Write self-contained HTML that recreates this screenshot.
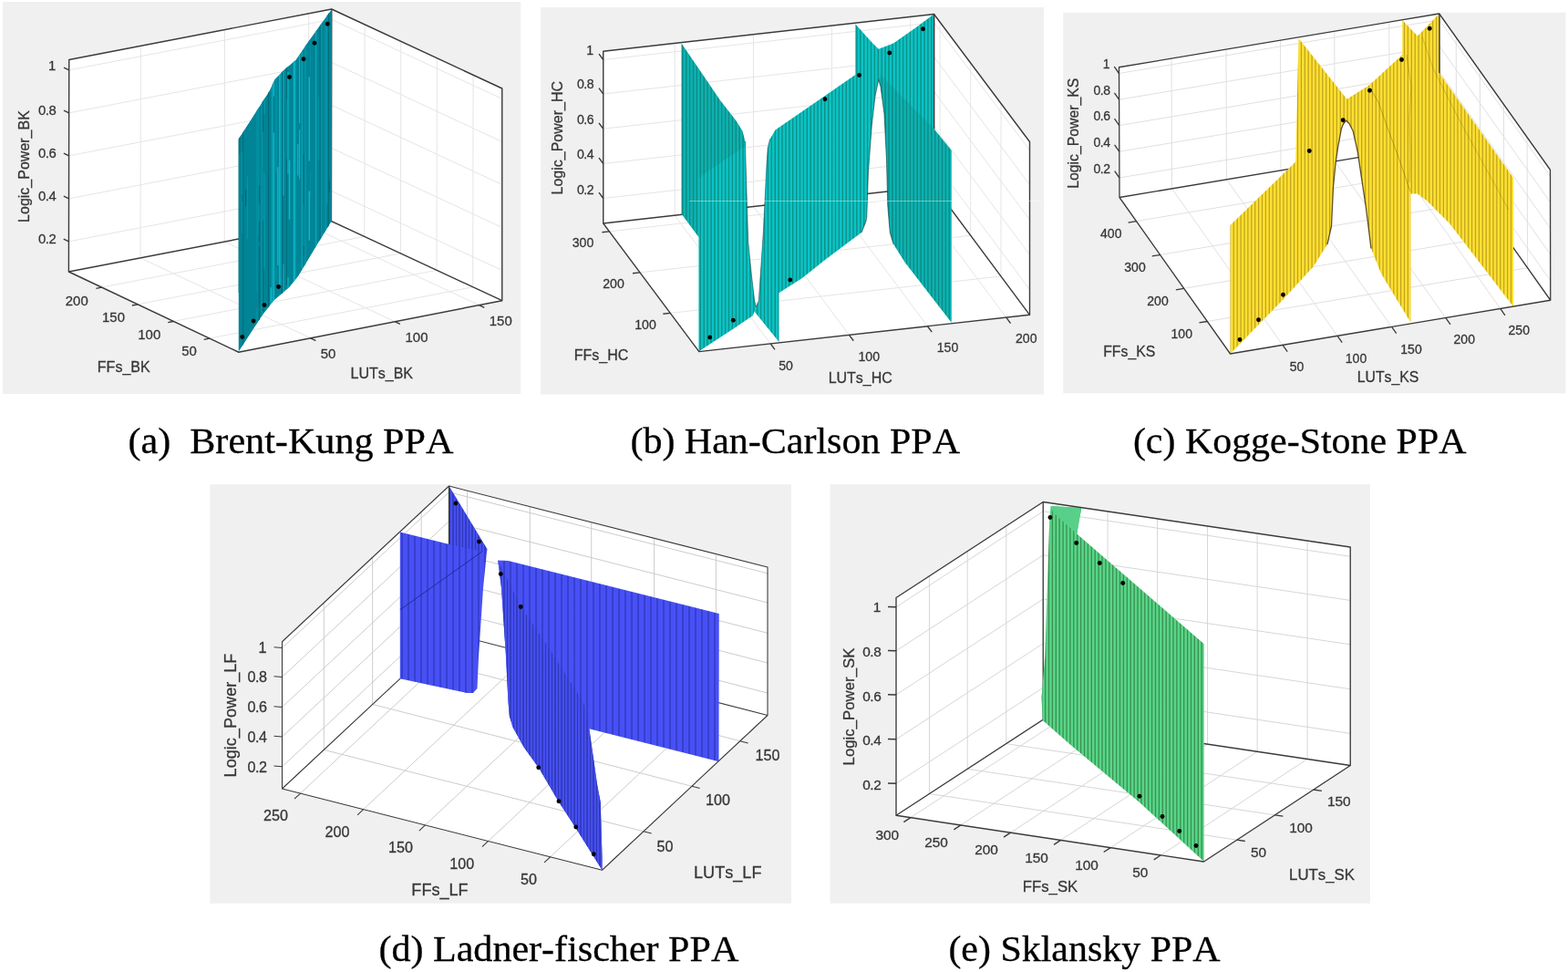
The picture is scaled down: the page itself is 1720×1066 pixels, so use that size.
<!DOCTYPE html>
<html lang="en"><head><meta charset="utf-8"><title>PPA logic power surface fits</title>
<style>
html,body{margin:0;padding:0;background:#fff;}
body{width:1720px;height:1066px;overflow:hidden;position:relative;}
svg{position:absolute;left:0;top:0;display:block;}
.t{font-family:"Liberation Sans","DejaVu Sans",sans-serif;fill:#363636;stroke:#363636;stroke-width:0.28px;font-kerning:none;}
.c{font-family:"Liberation Serif","DejaVu Serif",serif;fill:#000;white-space:pre;font-kerning:none;stroke:#000;stroke-width:0.3px;}
</style></head><body>
<svg width="1720" height="1066" viewBox="0 0 1720 1066" role="img" aria-label="Logic power surface fits for five parallel prefix adders">
<rect x="0" y="0" width="1720" height="1066" fill="#ffffff"/>
<defs>
<clipPath id="clip1"><polygon points="261.50,386.25 261.50,152.50 295.30,100.00 301.00,87.50 312.00,76.00 324.40,65.70 338.50,45.00 364.20,9.50 364.20,242.00 350.00,265.00 327.50,302.50 317.50,315.00 300.00,330.00 287.50,346.25"/></clipPath>
<linearGradient id="pb" gradientUnits="userSpaceOnUse" x1="0.000" y1="0" x2="3.900" y2="0" spreadMethod="repeat"><stop offset="0.0000" stop-color="#0f8f8b"/><stop offset="0.0700" stop-color="#0f8f8b"/><stop offset="0.2900" stop-color="#0ac4c4"/><stop offset="0.7100" stop-color="#0ac4c4"/><stop offset="0.9300" stop-color="#0f8f8b"/><stop offset="1.0000" stop-color="#0f8f8b"/></linearGradient>
<linearGradient id="pc" gradientUnits="userSpaceOnUse" x1="0.000" y1="0" x2="3.900" y2="0" spreadMethod="repeat"><stop offset="0.0000" stop-color="#c0a11f"/><stop offset="0.0350" stop-color="#c0a11f"/><stop offset="0.2850" stop-color="#fde030"/><stop offset="0.7150" stop-color="#fde030"/><stop offset="0.9650" stop-color="#c0a11f"/><stop offset="1.0000" stop-color="#c0a11f"/></linearGradient>
<linearGradient id="pd" gradientUnits="userSpaceOnUse" x1="0.000" y1="0" x2="7.000" y2="0" spreadMethod="repeat"><stop offset="0.0000" stop-color="#343ecb"/><stop offset="0.0600" stop-color="#343ecb"/><stop offset="0.1800" stop-color="#4850f5"/><stop offset="0.8200" stop-color="#4850f5"/><stop offset="0.9400" stop-color="#343ecb"/><stop offset="1.0000" stop-color="#343ecb"/></linearGradient>
<linearGradient id="pd2" gradientUnits="userSpaceOnUse" x1="0.000" y1="0" x2="3.500" y2="0" spreadMethod="repeat"><stop offset="0.0000" stop-color="#2f38b8"/><stop offset="0.1100" stop-color="#2f38b8"/><stop offset="0.3100" stop-color="#4750f2"/><stop offset="0.6900" stop-color="#4750f2"/><stop offset="0.8900" stop-color="#2f38b8"/><stop offset="1.0000" stop-color="#2f38b8"/></linearGradient>
<linearGradient id="pe" gradientUnits="userSpaceOnUse" x1="0.000" y1="0" x2="3.900" y2="0" spreadMethod="repeat"><stop offset="0.0000" stop-color="#3d8d52"/><stop offset="0.0450" stop-color="#3d8d52"/><stop offset="0.2950" stop-color="#56d787"/><stop offset="0.7050" stop-color="#56d787"/><stop offset="0.9550" stop-color="#3d8d52"/><stop offset="1.0000" stop-color="#3d8d52"/></linearGradient>
</defs>
<g id="panel-a">
<rect x="3.00" y="2.00" width="568.25" height="430.00" fill="#f0f0f0"/>
<polygon points="75.75,65.50 363.75,10.00 550.75,97.00 550.75,329.70 261.75,386.25 75.40,298.00" fill="#fff"/>
<path d="M154.02 282.85L154.37 50.35M154.02 282.85L340.65 370.81M246.18 265.09L246.53 32.59M246.18 265.09L433.13 352.72M338.34 247.33L338.69 14.83M338.34 247.33L525.61 334.62M518.71 314.79L519.06 82.29M518.71 314.79L229.88 371.16M478.99 296.30L479.34 63.80M478.99 296.30L190.38 352.45M439.46 277.90L439.81 45.40M439.46 277.90L151.06 333.83M399.75 259.42L400.10 26.92M399.75 259.42L111.55 315.12M75.45 264.87L363.45 209.37M363.45 209.37L550.75 296.54M75.52 217.86L363.52 162.36M363.52 162.36L550.75 249.49M75.59 170.87L363.59 115.37M363.59 115.37L550.75 202.46M75.66 123.86L363.66 68.36M363.66 68.36L550.75 155.41M75.73 76.89L363.73 21.39M363.73 21.39L550.75 108.40" stroke="#e5e5e5" stroke-width="1.00" fill="none"/>
<path d="M363.75 10.00L363.40 242.50M75.40 298.00L363.40 242.50L550.75 329.70" stroke="#3a3a3a" stroke-width="1.40" fill="none"/>
<g clip-path="url(#clip1)"><polygon points="261.50,386.25 261.50,152.50 295.30,100.00 301.00,87.50 312.00,76.00 324.40,65.70 338.50,45.00 364.20,9.50 364.20,242.00 350.00,265.00 327.50,302.50 317.50,315.00 300.00,330.00 287.50,346.25" fill="#018596" /><path d="M261.0 41.2V321.2M288.5 14.8V44.1M288.5 62.2V145.0M288.5 241.4V341.6M294.6 5.0V390.0M360.3 5.0V390.0" stroke="#016a7a" stroke-width="1.3" fill="none"/><path d="M262.9 39.9V168.4M351.0 5.0V390.0" stroke="#016a7a" stroke-width="1.1" fill="none"/><path d="M265.6 166.4V213.2M265.6 220.7V256.0M289.8 60.5V125.1M289.8 190.0V293.6M335.0 5.0V390.0M352.6 5.0V390.0" stroke="#0596a9" stroke-width="1.5" fill="none"/><path d="M266.7 5.0V390.0M280.5 89.0V115.7M314.5 6.5V33.5M314.5 71.4V108.4M314.5 174.4V312.7M333.1 27.1V39.4M333.1 168.7V224.7M333.1 270.0V280.9" stroke="#016a7a" stroke-width="0.9" fill="none"/><path d="M269.6 207.2V226.2" stroke="#016a7a" stroke-width="1.4" fill="none"/><path d="M271.4 20.1V63.5M271.4 193.3V262.3M281.9 112.2V320.4M281.9 337.6V362.2" stroke="#0596a9" stroke-width="1.1" fill="none"/><path d="M283.3 9.6V258.5M349.7 106.3V176.6M349.7 375.3V405.2" stroke="#0596a9" stroke-width="0.9" fill="none"/><path d="M284.5 203.5V223.0M284.5 242.8V265.3M284.5 270.8V371.9" stroke="#016a7a" stroke-width="1.2" fill="none"/><path d="M287.4 5.0V390.0M303.0 73.7V189.0M303.0 293.8V306.2" stroke="#0596a9" stroke-width="1.3" fill="none"/><path d="M297.2 315.3V332.4M300.3 89.9V105.7M300.3 145.4V372.7M304.8 37.7V66.2M304.8 183.3V291.2" stroke="#0cb6ca" stroke-width="1.4" fill="none"/><path d="M298.7 5.0V390.0M331.2 5.0V390.0" stroke="#0cb6ca" stroke-width="0.8" fill="none"/><path d="M306.7 61.3V315.5M306.7 323.2V382.4M310.8 28.4V214.6M310.8 289.9V326.2" stroke="#0cb6ca" stroke-width="1.3" fill="none"/><path d="M308.4 13.2V312.8M316.0 21.2V33.2M316.0 78.7V190.8M316.0 303.9V345.0M322.4 5.0V390.0M326.8 158.3V192.6" stroke="#0cb6ca" stroke-width="1.2" fill="none"/><path d="M309.5 5.0V390.0M330.0 308.5V384.3" stroke="#016a7a" stroke-width="1.6" fill="none"/><path d="M317.5 175.7V240.8M339.3 84.3V176.6M339.3 209.5V263.8" stroke="#0cb6ca" stroke-width="1.5" fill="none"/><path d="M323.8 5.0V390.0" stroke="#0cb6ca" stroke-width="1.0" fill="none"/><path d="M328.6 40.5V135.1M328.6 142.3V168.6M328.6 160.5V196.6" stroke="#0cb6ca" stroke-width="1.1" fill="none"/><path d="M340.6 45.9V77.9M340.6 187.8V217.2M340.6 320.3V364.8" stroke="#0596a9" stroke-width="0.8" fill="none"/><path d="M346.7 5.0V390.0" stroke="#0cb6ca" stroke-width="0.9" fill="none"/><path d="M357.1 21.9V326.6" stroke="#0596a9" stroke-width="1.4" fill="none"/><path d="M358.7 11.2V223.9M358.7 269.3V278.8M358.7 312.2V358.5" stroke="#0596a9" stroke-width="1.2" fill="none"/><path d="M361.4 198.6V211.1M361.4 293.1V312.1" stroke="#016a7a" stroke-width="1.0" fill="none"/></g>
<path d="M75.75 65.50L363.75 10.00L550.75 97.00L550.75 329.70L261.75 386.25L75.40 298.00Z" stroke="#3a3a3a" stroke-width="1.40" fill="none" stroke-linejoin="round"/>
<path d="M340.65 370.81L346.34 373.51M433.13 352.72L438.82 355.41M525.61 334.62L531.30 337.32M229.88 371.16L223.70 372.37M190.38 352.45L184.20 353.66M151.06 333.83L144.88 335.04M111.55 315.12L105.37 316.33M75.45 264.87L69.76 262.17M75.52 217.86L69.83 215.16M75.59 170.87L69.90 168.17M75.66 123.86L69.97 121.16M75.73 76.89L70.04 74.20" stroke="#3a3a3a" stroke-width="1.40" fill="none"/>
<circle cx="265.75" cy="369.50" r="2.45" fill="#000"/>
<circle cx="278.00" cy="352.00" r="2.45" fill="#000"/>
<circle cx="290.00" cy="334.50" r="2.45" fill="#000"/>
<circle cx="305.50" cy="314.50" r="2.45" fill="#000"/>
<circle cx="317.50" cy="84.50" r="2.45" fill="#000"/>
<circle cx="333.00" cy="64.75" r="2.45" fill="#000"/>
<circle cx="345.00" cy="47.25" r="2.45" fill="#000"/>
<circle cx="359.25" cy="26.25" r="2.45" fill="#000"/>
<text class="t" x="61.40" y="77.03" font-size="14.90" text-anchor="end">1</text>
<text class="t" x="61.40" y="125.63" font-size="14.90" text-anchor="end" letter-spacing="-0.45">0.8</text>
<text class="t" x="61.40" y="172.83" font-size="14.90" text-anchor="end" letter-spacing="-0.45">0.6</text>
<text class="t" x="61.40" y="219.83" font-size="14.90" text-anchor="end" letter-spacing="-0.45">0.4</text>
<text class="t" x="61.40" y="266.63" font-size="14.90" text-anchor="end" letter-spacing="-0.45">0.2</text>
<text class="t" x="84.25" y="334.83" font-size="14.90" text-anchor="middle">200</text>
<text class="t" x="124.50" y="353.33" font-size="14.90" text-anchor="middle">150</text>
<text class="t" x="163.75" y="371.58" font-size="14.90" text-anchor="middle">100</text>
<text class="t" x="207.50" y="390.33" font-size="14.90" text-anchor="middle">50</text>
<text class="t" x="360.00" y="392.83" font-size="14.90" text-anchor="middle">50</text>
<text class="t" x="457.00" y="374.83" font-size="14.90" text-anchor="middle">100</text>
<text class="t" x="549.25" y="356.58" font-size="14.90" text-anchor="middle">150</text>
<text class="t" x="135.75" y="407.73" font-size="16.00" text-anchor="middle">FFs_BK</text>
<text class="t" x="418.75" y="415.23" font-size="16.00" text-anchor="middle">LUTs_BK</text>
<text class="t" transform="translate(26.00 182.50) rotate(-90)" x="0" y="5.73" font-size="16.00" text-anchor="middle">Logic_Power_BK</text>
</g>
<g id="panel-b">
<rect x="593.00" y="8.00" width="552.00" height="424.50" fill="#f0f0f0"/>
<polygon points="661.75,56.25 1024.50,15.50 1129.50,155.50 1129.50,345.30 766.80,385.60 661.75,245.00" fill="#fff"/>
<path d="M740.10 236.20L740.10 47.45M740.10 236.20L845.14 376.90M826.44 226.50L826.44 37.75M826.44 226.50L931.47 367.30M912.41 216.84L912.41 28.09M912.41 216.84L1017.43 357.75M998.74 207.14L998.74 18.39M998.74 207.14L1103.75 348.16M1098.00 302.99L1098.00 114.24M1098.00 302.99L735.28 343.42M1064.71 258.27L1064.71 69.52M1064.71 258.27L701.98 298.85M1031.12 213.14L1031.12 24.39M1031.12 213.14L668.37 253.86M661.75 217.50L1024.50 176.75M1024.50 176.75L1129.50 317.65M661.75 179.50L1024.50 138.75M1024.50 138.75L1129.50 279.44M661.75 141.24L1024.50 100.49M1024.50 100.49L1129.50 240.97M661.75 103.06L1024.50 62.31M1024.50 62.31L1129.50 202.57M661.75 65.50L1024.50 24.75M1024.50 24.75L1129.50 164.80" stroke="#e5e5e5" stroke-width="1.00" fill="none"/>
<path d="M1024.50 15.50L1024.50 204.25M661.75 245.00L1024.50 204.25L1129.50 345.30" stroke="#3a3a3a" stroke-width="1.40" fill="none"/>
<polygon points="747.50,47.50 790.00,110.00 807.50,132.50 814.50,143.75 817.40,155.00 818.70,200.00 820.70,265.00 824.20,300.00 827.70,330.00 829.20,336.50 826.00,346.00 805.00,360.30 766.40,385.60 766.40,260.00 747.50,234.50" fill="url(#pb)" />
<polygon points="829.20,336.50 832.30,330.00 837.30,255.00 841.00,180.00 842.20,162.50 844.60,152.50 850.50,142.50 905.00,105.00 938.25,82.00 938.25,26.25 955.00,45.00 963.75,53.75 980.00,47.50 1005.00,30.00 1024.50,15.50 1024.50,141.25 1043.75,165.00 1043.75,353.75 992.50,287.50 980.00,267.50 976.25,255.00 975.00,240.00 973.75,225.00 972.50,175.00 970.00,125.00 966.00,95.00 963.75,87.50 960.00,105.00 956.25,137.50 952.50,187.50 950.75,237.50 950.00,242.50 945.00,255.00 930.00,266.25 905.00,285.00 880.00,305.00 854.50,321.25 854.50,375.00 827.00,341.00" fill="url(#pb)" />
<polygon points="747.50,47.50 790.00,110.00 807.50,132.50 814.50,143.75 817.40,155.00 817.60,160.00 766.40,195.00 766.40,260.00 747.50,234.50" fill="rgba(20,120,110,0.22)" />
<polygon points="963.75,87.50 966.00,82.00 1024.50,141.25 1043.75,165.00 1043.75,353.75 992.50,287.50 980.00,267.50 976.25,255.00 975.00,240.00 973.75,225.00 972.50,175.00 970.00,125.00 966.00,95.00" fill="rgba(20,120,110,0.22)" />
<path d="M661.75 56.25L1024.50 15.50L1129.50 155.50L1129.50 345.30L766.80 385.60L661.75 245.00Z" stroke="#3a3a3a" stroke-width="1.40" fill="none" stroke-linejoin="round"/>
<polyline points="1024.60,15.50 1024.60,141.00" fill="none" stroke="#3a3a3a" stroke-width="1.30" />
<polyline points="945.00,255.00 950.00,242.50 950.75,237.50 952.50,187.50 956.25,137.50 960.00,105.00 963.75,87.50 966.00,95.00 970.00,125.00 972.50,175.00 973.75,225.00 975.00,240.00 976.25,255.00 980.00,267.50" fill="none" stroke="rgba(0,50,50,0.55)" stroke-width="1.10" stroke-linejoin="round"/>
<polyline points="817.40,155.00 818.70,200.00 820.70,265.00 824.20,300.00 827.70,330.00 829.20,336.50 832.30,330.00 837.30,255.00 841.00,180.00 842.20,162.50 844.60,152.50" fill="none" stroke="rgba(0,50,50,0.5)" stroke-width="1.00" stroke-linejoin="round"/>
<polyline points="756.00,220.50 1142.00,220.50" fill="none" stroke="rgba(255,255,255,0.5)" stroke-width="0.80" />
<path d="M845.14 376.90L849.93 383.30M931.47 367.30L936.25 373.71M1017.43 357.75L1022.21 364.16M1103.75 348.16L1108.54 354.57M735.28 343.42L727.33 344.30M701.98 298.85L694.03 299.73M668.37 253.86L660.42 254.74M661.75 217.50L656.96 211.09M661.75 179.50L656.96 173.10M661.75 141.24L656.96 134.84M661.75 103.06L656.96 96.65M661.75 65.50L656.96 59.09" stroke="#3a3a3a" stroke-width="1.40" fill="none"/>
<circle cx="778.75" cy="370.00" r="2.45" fill="#000"/>
<circle cx="804.25" cy="351.25" r="2.45" fill="#000"/>
<circle cx="866.75" cy="307.00" r="2.45" fill="#000"/>
<circle cx="905.00" cy="108.75" r="2.45" fill="#000"/>
<circle cx="942.50" cy="82.50" r="2.45" fill="#000"/>
<circle cx="975.75" cy="58.00" r="2.45" fill="#000"/>
<circle cx="1012.50" cy="31.75" r="2.45" fill="#000"/>
<text class="t" x="651.20" y="59.55" font-size="14.10" text-anchor="end">1</text>
<text class="t" x="651.20" y="97.45" font-size="14.10" text-anchor="end" letter-spacing="-0.45">0.8</text>
<text class="t" x="651.20" y="136.05" font-size="14.10" text-anchor="end" letter-spacing="-0.45">0.6</text>
<text class="t" x="651.20" y="174.35" font-size="14.10" text-anchor="end" letter-spacing="-0.45">0.4</text>
<text class="t" x="651.20" y="212.65" font-size="14.10" text-anchor="end" letter-spacing="-0.45">0.2</text>
<text class="t" x="639.50" y="271.30" font-size="14.10" text-anchor="middle">300</text>
<text class="t" x="673.00" y="316.30" font-size="14.10" text-anchor="middle">200</text>
<text class="t" x="708.00" y="360.80" font-size="14.10" text-anchor="middle">100</text>
<text class="t" x="862.00" y="405.55" font-size="14.10" text-anchor="middle">50</text>
<text class="t" x="953.25" y="395.80" font-size="14.10" text-anchor="middle">100</text>
<text class="t" x="1039.50" y="385.80" font-size="14.10" text-anchor="middle">150</text>
<text class="t" x="1125.75" y="376.30" font-size="14.10" text-anchor="middle">200</text>
<text class="t" x="659.50" y="395.23" font-size="16.00" text-anchor="middle">FFs_HC</text>
<text class="t" x="943.75" y="420.23" font-size="16.00" text-anchor="middle">LUTs_HC</text>
<text class="t" transform="translate(611.25 151.25) rotate(-90)" x="0" y="5.73" font-size="16.00" text-anchor="middle">Logic_Power_HC</text>
</g>
<g id="panel-c">
<rect x="1166.25" y="13.75" width="551.25" height="417.50" fill="#f0f0f0"/>
<polygon points="1227.50,73.75 1578.75,15.00 1700.50,186.25 1700.75,329.25 1349.50,388.00 1228.00,216.50" fill="#fff"/>
<path d="M1285.50 206.88L1285.00 64.13M1285.50 206.88L1407.00 378.38M1345.49 196.85L1344.99 54.10M1345.49 196.85L1466.99 368.35M1405.03 186.89L1404.53 44.14M1405.03 186.89L1526.53 358.39M1464.25 176.98L1463.75 34.23M1464.25 176.98L1585.75 348.48M1524.24 166.95L1523.74 24.20M1524.24 166.95L1645.74 338.45M1675.60 293.75L1675.10 151.00M1675.60 293.75L1324.35 352.50M1649.96 257.56L1649.46 114.81M1649.96 257.56L1298.71 316.31M1623.88 220.74L1623.38 77.99M1623.88 220.74L1272.63 279.49M1597.72 183.82L1597.22 41.07M1597.72 183.82L1246.47 242.57M1227.92 195.00L1579.17 136.25M1579.17 136.25L1700.71 307.71M1227.82 166.25L1579.07 107.50M1579.07 107.50L1700.66 278.91M1227.72 137.56L1578.97 78.81M1578.97 78.81L1700.61 250.17M1227.62 109.25L1578.87 50.50M1578.87 50.50L1700.56 221.81M1227.52 80.50L1578.77 21.75M1578.77 21.75L1700.51 193.01" stroke="#e0e0e0" stroke-width="1.00" fill="none"/>
<path d="M1578.75 15.00L1579.25 157.75M1228.00 216.50L1579.25 157.75L1700.75 329.25" stroke="#3a3a3a" stroke-width="1.30" fill="none"/>
<polygon points="1349.50,388.00 1349.50,247.00 1421.25,177.50 1424.50,42.00 1477.50,108.75 1502.50,93.00 1538.25,60.00 1538.25,22.00 1555.00,39.50 1578.75,15.00 1578.75,80.00 1660.00,195.00 1660.00,336.25 1615.00,277.50 1590.00,245.00 1565.00,220.00 1555.00,212.50 1547.50,212.50 1547.50,353.75 1515.00,300.00 1504.00,272.50 1500.30,242.50 1498.00,225.00 1493.10,192.30 1489.30,166.70 1484.20,143.70 1480.00,135.50 1476.50,132.20 1473.50,136.00 1471.40,141.20 1467.60,161.60 1465.00,179.50 1462.50,205.00 1460.50,248.00 1456.00,268.00 1441.00,292.00 1407.50,328.50" fill="url(#pc)" />
<polyline points="1456.00,268.00 1460.50,248.00 1462.50,205.00 1465.00,179.50 1467.60,161.60 1471.40,141.20 1473.50,136.00 1476.50,132.20 1480.00,135.50 1484.20,143.70 1489.30,166.70 1493.10,192.30 1498.00,225.00 1500.30,242.50 1504.00,272.50" fill="none" stroke="rgba(40,30,0,0.75)" stroke-width="1.30" stroke-linejoin="round"/>
<polyline points="1502.50,96.00 1512.00,112.00 1522.00,140.00 1535.00,175.00 1547.00,210.00" fill="none" stroke="rgba(90,70,0,0.45)" stroke-width="0.80" />
<polyline points="1543.00,60.00 1548.00,95.00 1546.00,130.00 1547.00,170.00 1546.00,200.00" fill="none" stroke="rgba(90,70,0,0.35)" stroke-width="0.80" />
<polyline points="1560.00,40.00 1572.00,75.00 1600.00,130.00 1630.00,185.00 1655.00,230.00" fill="none" stroke="rgba(90,70,0,0.3)" stroke-width="0.80" />
<path d="M1227.50 73.75L1578.75 15.00L1700.50 186.25L1700.75 329.25L1349.50 388.00L1228.00 216.50Z" stroke="#3a3a3a" stroke-width="1.30" fill="none" stroke-linejoin="round"/>
<polyline points="1578.90,15.00 1578.90,80.00" fill="none" stroke="#3a3a3a" stroke-width="1.15" />
<path d="M1407.00 378.38L1412.20 385.73M1466.99 368.35L1472.20 375.69M1526.53 358.39L1531.73 365.73M1585.75 348.48L1590.95 355.83M1645.74 338.45L1650.95 345.79M1324.35 352.50L1315.47 353.98M1298.71 316.31L1289.84 317.80M1272.63 279.49L1263.75 280.98M1246.47 242.57L1237.59 244.05M1227.92 195.00L1222.72 187.66M1227.82 166.25L1222.62 158.91M1227.72 137.56L1222.52 130.22M1227.62 109.25L1222.42 101.91M1227.52 80.50L1222.32 73.16" stroke="#3a3a3a" stroke-width="1.30" fill="none"/>
<circle cx="1360.00" cy="372.50" r="2.45" fill="#000"/>
<circle cx="1380.50" cy="350.75" r="2.45" fill="#000"/>
<circle cx="1407.50" cy="323.25" r="2.45" fill="#000"/>
<circle cx="1436.25" cy="165.50" r="2.45" fill="#000"/>
<circle cx="1473.25" cy="131.75" r="2.45" fill="#000"/>
<circle cx="1502.50" cy="99.25" r="2.45" fill="#000"/>
<circle cx="1537.50" cy="65.50" r="2.45" fill="#000"/>
<circle cx="1568.25" cy="31.25" r="2.45" fill="#000"/>
<text class="t" x="1217.50" y="75.21" font-size="14.00" text-anchor="end">1</text>
<text class="t" x="1217.50" y="103.51" font-size="14.00" text-anchor="end" letter-spacing="-0.45">0.8</text>
<text class="t" x="1217.50" y="132.01" font-size="14.00" text-anchor="end" letter-spacing="-0.45">0.6</text>
<text class="t" x="1217.50" y="161.31" font-size="14.00" text-anchor="end" letter-spacing="-0.45">0.4</text>
<text class="t" x="1217.50" y="190.21" font-size="14.00" text-anchor="end" letter-spacing="-0.45">0.2</text>
<text class="t" x="1218.75" y="261.26" font-size="14.00" text-anchor="middle">400</text>
<text class="t" x="1245.00" y="298.01" font-size="14.00" text-anchor="middle">300</text>
<text class="t" x="1270.00" y="335.01" font-size="14.00" text-anchor="middle">200</text>
<text class="t" x="1296.25" y="371.26" font-size="14.00" text-anchor="middle">100</text>
<text class="t" x="1422.50" y="407.01" font-size="14.00" text-anchor="middle">50</text>
<text class="t" x="1487.50" y="397.51" font-size="14.00" text-anchor="middle">100</text>
<text class="t" x="1548.00" y="387.51" font-size="14.00" text-anchor="middle">150</text>
<text class="t" x="1606.25" y="377.01" font-size="14.00" text-anchor="middle">200</text>
<text class="t" x="1666.25" y="367.01" font-size="14.00" text-anchor="middle">250</text>
<text class="t" x="1238.75" y="390.66" font-size="15.80" text-anchor="middle">FFs_KS</text>
<text class="t" x="1522.50" y="419.41" font-size="15.80" text-anchor="middle">LUTs_KS</text>
<text class="t" transform="translate(1177.50 146.25) rotate(-90)" x="0" y="5.66" font-size="15.80" text-anchor="middle">Logic_Power_KS</text>
</g>
<g id="panel-d">
<rect x="230.50" y="531.25" width="637.50" height="459.50" fill="#f0f0f0"/>
<polygon points="309.50,703.75 492.50,533.00 842.00,622.00 842.00,784.50 660.50,954.25 309.50,865.00" fill="#fff"/>
<path d="M355.25 822.31L355.25 661.06M355.25 822.31L705.88 911.81M408.69 772.45L408.69 611.20M408.69 772.45L758.87 862.25M462.12 722.59L462.12 561.34M462.12 722.59L811.87 812.68M785.38 769.88L785.38 608.63M785.38 769.88L603.64 939.79M717.58 752.37L717.58 591.12M717.58 752.37L535.54 922.48M648.73 734.59L648.73 573.34M648.73 734.59L466.40 904.89M581.27 717.17L581.27 555.92M581.27 717.17L398.65 887.67M512.42 699.39L512.42 538.14M512.42 699.39L329.51 870.09M309.50 840.75L492.50 670.00M492.50 670.00L842.00 760.06M309.50 808.00L492.50 637.25M492.50 637.25L842.00 727.06M309.50 775.51L492.50 604.76M492.50 604.76L842.00 694.31M309.50 742.45L492.50 571.70M492.50 571.70L842.00 661.00M309.50 710.52L492.50 539.77M492.50 539.77L842.00 628.83" stroke="#cccccc" stroke-width="1.00" fill="none"/>
<path d="M492.50 533.00L492.50 694.25M309.50 865.00L492.50 694.25L842.00 784.50" stroke="#3a3a3a" stroke-width="1.08" fill="none"/>
<polygon points="438.80,583.60 493.00,597.00 493.00,534.00 534.50,602.50 533.75,607.50 530.00,645.00 525.00,720.00 523.50,755.00 519.00,760.00 512.00,760.00 470.00,751.00 438.80,744.20" fill="url(#pd)" />
<polygon points="493.00,534.00 534.50,602.50 528.75,605.00 493.00,597.00" fill="url(#pd2)" />
<polyline points="438.80,668.75 528.75,605.00" fill="none" stroke="#1c2280" stroke-width="0.80" />
<polygon points="546.25,614.50 557.50,615.00 788.75,673.00 788.50,835.30 646.25,799.30 655.00,860.00 658.75,880.00 660.50,940.00 660.50,954.25 650.00,937.50 631.25,907.50 612.50,878.75 591.25,842.50 575.00,820.00 562.50,797.50 558.75,785.00 557.50,770.00 555.00,720.00 550.00,645.00" fill="url(#pd)" />
<polygon points="546.25,614.50 571.25,665.00 600.00,707.50 640.00,770.00 646.25,798.00 655.00,860.00 658.75,880.00 660.50,940.00 660.50,954.25 650.00,937.50 631.25,907.50 612.50,878.75 591.25,842.50 575.00,820.00 562.50,797.50 558.75,785.00 557.50,770.00 555.00,720.00 550.00,645.00" fill="url(#pd2)" />
<path d="M309.50 703.75L492.50 533.00L842.00 622.00L842.00 784.50L660.50 954.25L309.50 865.00Z" stroke="#3a3a3a" stroke-width="1.08" fill="none" stroke-linejoin="round"/>
<polyline points="492.50,533.00 492.50,597.00" fill="none" stroke="#3a3a3a" stroke-width="1.15" />
<path d="M705.88 911.81L714.60 914.03M758.87 862.25L767.60 864.46M811.87 812.68L820.59 814.90M603.64 939.79L597.06 945.94M535.54 922.48L528.97 928.62M466.40 904.89L459.82 911.04M398.65 887.67L392.08 893.82M329.51 870.09L322.93 876.23M309.50 840.75L300.53 840.03M309.50 808.00L300.53 807.28M309.50 775.51L300.53 774.79M309.50 742.45L300.53 741.73M309.50 710.52L300.53 709.80" stroke="#3a3a3a" stroke-width="1.08" fill="none"/>
<circle cx="500.00" cy="552.00" r="2.45" fill="#000"/>
<circle cx="525.50" cy="594.00" r="2.45" fill="#000"/>
<circle cx="549.25" cy="629.50" r="2.45" fill="#000"/>
<circle cx="571.25" cy="665.50" r="2.45" fill="#000"/>
<circle cx="590.75" cy="841.75" r="2.45" fill="#000"/>
<circle cx="613.00" cy="878.75" r="2.45" fill="#000"/>
<circle cx="631.75" cy="907.00" r="2.45" fill="#000"/>
<circle cx="651.25" cy="936.75" r="2.45" fill="#000"/>
<text class="t" x="292.50" y="716.26" font-size="16.10" text-anchor="end">1</text>
<text class="t" x="292.50" y="747.76" font-size="16.10" text-anchor="end" letter-spacing="-0.45">0.8</text>
<text class="t" x="292.50" y="781.26" font-size="16.10" text-anchor="end" letter-spacing="-0.45">0.6</text>
<text class="t" x="292.50" y="813.76" font-size="16.10" text-anchor="end" letter-spacing="-0.45">0.4</text>
<text class="t" x="292.50" y="847.01" font-size="16.10" text-anchor="end" letter-spacing="-0.45">0.2</text>
<text class="t" x="302.50" y="900.01" font-size="16.10" text-anchor="middle">250</text>
<text class="t" x="370.00" y="917.76" font-size="16.10" text-anchor="middle">200</text>
<text class="t" x="439.50" y="934.51" font-size="16.10" text-anchor="middle">150</text>
<text class="t" x="506.75" y="952.76" font-size="16.10" text-anchor="middle">100</text>
<text class="t" x="580.00" y="970.26" font-size="16.10" text-anchor="middle">50</text>
<text class="t" x="729.50" y="933.76" font-size="16.10" text-anchor="middle">50</text>
<text class="t" x="787.50" y="883.26" font-size="16.10" text-anchor="middle">100</text>
<text class="t" x="842.00" y="833.76" font-size="16.10" text-anchor="middle">150</text>
<text class="t" x="482.50" y="982.23" font-size="18.10" text-anchor="middle">FFs_LF</text>
<text class="t" x="798.25" y="962.73" font-size="18.10" text-anchor="middle">LUTs_LF</text>
<text class="t" transform="translate(252.50 784.50) rotate(-90)" x="0" y="6.48" font-size="18.10" text-anchor="middle">Logic_Power_LF</text>
</g>
<g id="panel-e">
<rect x="910.50" y="531.25" width="592.50" height="459.50" fill="#f0f0f0"/>
<polygon points="983.00,655.50 1144.25,550.50 1481.25,600.00 1481.25,839.50 1320.50,945.00 983.00,894.25" fill="#fff"/>
<path d="M1019.44 870.52L1019.44 631.77M1019.44 870.52L1356.83 921.16M1061.21 843.33L1061.21 604.58M1061.21 843.33L1398.46 893.83M1103.78 815.61L1103.78 576.86M1103.78 815.61L1440.90 865.98M1434.07 832.47L1434.07 593.72M1434.07 832.47L1273.25 937.89M1379.14 824.27L1379.14 585.52M1379.14 824.27L1218.24 929.62M1324.55 816.13L1324.55 577.38M1324.55 816.13L1163.56 921.40M1269.61 807.94L1269.61 569.19M1269.61 807.94L1108.55 913.13M1215.02 799.80L1215.02 561.05M1215.02 799.80L1053.88 904.91M1160.09 791.61L1160.09 552.86M1160.09 791.61L998.86 896.64M983.00 859.25L1144.25 754.25M1144.25 754.25L1481.25 804.39M983.00 810.76L1144.25 705.76M1144.25 705.76L1481.25 755.75M983.00 761.98L1144.25 656.98M1144.25 656.98L1481.25 706.82M983.00 713.75L1144.25 608.75M1144.25 608.75L1481.25 658.44M983.00 665.77L1144.25 560.77M1144.25 560.77L1481.25 610.30" stroke="#d6d6d6" stroke-width="1.00" fill="none"/>
<path d="M1144.25 550.50L1144.25 789.25M983.00 894.25L1144.25 789.25L1481.25 839.50" stroke="#3a3a3a" stroke-width="1.35" fill="none"/>
<polygon points="1152.50,555.00 1186.25,557.00 1181.25,585.50 1320.75,706.25 1320.75,945.00 1250.00,880.00 1175.00,817.50 1143.75,790.00 1142.50,765.00 1146.25,720.00 1148.75,645.00 1151.25,570.00" fill="url(#pe)" />
<polygon points="1152.50,555.00 1186.25,557.00 1181.25,585.50 1155.00,562.00" fill="#58d08a" />
<path d="M983.00 655.50L1144.25 550.50L1481.25 600.00L1481.25 839.50L1320.50 945.00L983.00 894.25Z" stroke="#3a3a3a" stroke-width="1.35" fill="none" stroke-linejoin="round"/>
<path d="M1356.83 921.16L1365.73 922.50M1398.46 893.83L1407.36 895.17M1440.90 865.98L1449.80 867.32M1273.25 937.89L1265.73 942.83M1218.24 929.62L1210.71 934.56M1163.56 921.40L1156.04 926.34M1108.55 913.13L1101.03 918.07M1053.88 904.91L1046.35 909.85M998.86 896.64L991.34 901.57M983.00 859.25L974.00 858.98M983.00 810.76L974.00 810.49M983.00 761.98L974.00 761.71M983.00 713.75L974.00 713.49M983.00 665.77L974.00 665.50" stroke="#3a3a3a" stroke-width="1.35" fill="none"/>
<circle cx="1152.00" cy="567.50" r="2.45" fill="#000"/>
<circle cx="1180.75" cy="595.50" r="2.45" fill="#000"/>
<circle cx="1206.25" cy="617.50" r="2.45" fill="#000"/>
<circle cx="1231.75" cy="639.50" r="2.45" fill="#000"/>
<circle cx="1250.00" cy="873.25" r="2.45" fill="#000"/>
<circle cx="1275.00" cy="895.50" r="2.45" fill="#000"/>
<circle cx="1293.75" cy="911.50" r="2.45" fill="#000"/>
<circle cx="1312.00" cy="927.50" r="2.45" fill="#000"/>
<text class="t" x="966.25" y="671.26" font-size="15.40" text-anchor="end">1</text>
<text class="t" x="966.25" y="720.01" font-size="15.40" text-anchor="end" letter-spacing="-0.45">0.8</text>
<text class="t" x="966.25" y="768.51" font-size="15.40" text-anchor="end" letter-spacing="-0.45">0.6</text>
<text class="t" x="966.25" y="816.76" font-size="15.40" text-anchor="end" letter-spacing="-0.45">0.4</text>
<text class="t" x="966.25" y="865.51" font-size="15.40" text-anchor="end" letter-spacing="-0.45">0.2</text>
<text class="t" x="973.25" y="921.11" font-size="15.40" text-anchor="middle">300</text>
<text class="t" x="1027.00" y="929.31" font-size="15.40" text-anchor="middle">250</text>
<text class="t" x="1082.00" y="937.31" font-size="15.40" text-anchor="middle">200</text>
<text class="t" x="1137.00" y="946.01" font-size="15.40" text-anchor="middle">150</text>
<text class="t" x="1192.00" y="954.31" font-size="15.40" text-anchor="middle">100</text>
<text class="t" x="1250.75" y="962.11" font-size="15.40" text-anchor="middle">50</text>
<text class="t" x="1380.50" y="940.01" font-size="15.40" text-anchor="middle">50</text>
<text class="t" x="1427.00" y="912.51" font-size="15.40" text-anchor="middle">100</text>
<text class="t" x="1468.75" y="884.26" font-size="15.40" text-anchor="middle">150</text>
<text class="t" x="1152.00" y="978.01" font-size="16.80" text-anchor="middle">FFs_SK</text>
<text class="t" x="1450.00" y="964.76" font-size="16.80" text-anchor="middle">LUTs_SK</text>
<text class="t" transform="translate(931.25 775.00) rotate(-90)" x="0" y="6.01" font-size="16.80" text-anchor="middle">Logic_Power_SK</text>
</g>
<text class="c" xml:space="preserve" transform="translate(140.40 497.00) scale(1.0540 1)" x="0" y="0" font-size="40.00">(a)  Brent-Kung PPA</text>
<text class="c" xml:space="preserve" transform="translate(691.40 497.00) scale(1.0503 1)" x="0" y="0" font-size="40.00">(b) Han-Carlson PPA</text>
<text class="c" xml:space="preserve" transform="translate(1242.90 497.00) scale(1.0483 1)" x="0" y="0" font-size="40.00">(c) Kogge-Stone PPA</text>
<text class="c" xml:space="preserve" transform="translate(415.40 1054.25) scale(1.0520 1)" x="0" y="0" font-size="40.00">(d) Ladner-fischer PPA</text>
<text class="c" xml:space="preserve" transform="translate(1040.40 1054.25) scale(1.0486 1)" x="0" y="0" font-size="40.00">(e) Sklansky PPA</text>
</svg>
</body></html>
